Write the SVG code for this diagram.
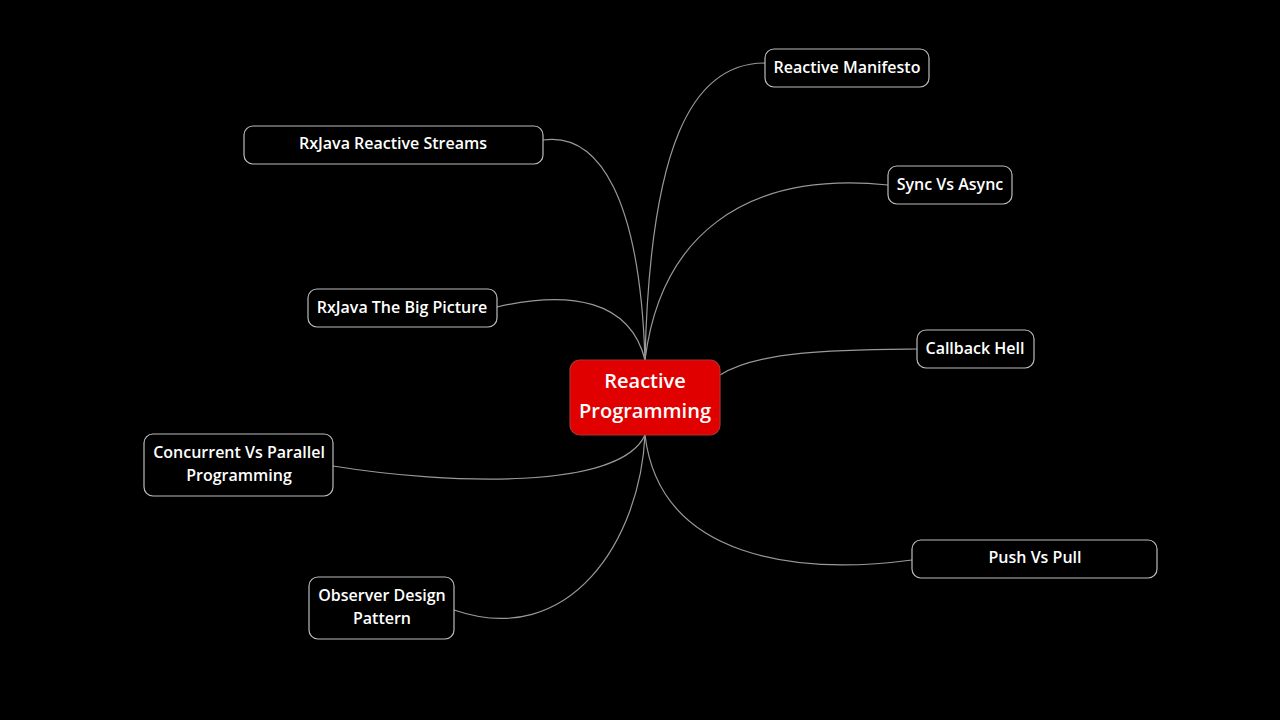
<svg xmlns="http://www.w3.org/2000/svg" width="1280" height="720" viewBox="0 0 1280 720">
<style>
.n rect{fill:#000;stroke:#bbb;stroke-width:1.2}
text{font-family:"Open Sans","Noto Sans",sans-serif;font-weight:600;fill:#fff;font-size:16px;text-anchor:middle}
text.big{font-size:20px}
.c path{fill:none;stroke:#999;stroke-width:1.2}
</style>
<rect width="1280" height="720" fill="#000"/>
<g class="c" id="connectors">
<path d="M645,360 C650,150 690,63 765,63"/>
<path d="M645,360 C660,240 740,170 888,185"/>
<path d="M645,360 C640,200 600,132 543,140"/>
<path d="M645,360 C630,300 570,290 497,307"/>
<path d="M720,375 C760,350 840,350 917,349"/>
<path d="M645,435 C620,490 450,485 333,466"/>
<path d="M645,435 C640,540 570,650 454,610"/>
<path d="M645,435 C660,560 800,575 912,560"/>
</g>
<g id="center"><rect x="570" y="360" width="150" height="75" rx="10" fill="#e00000" stroke="#a33" stroke-width="1.2"/>
<text class="big" x="645" y="388">Reactive</text><text class="big" x="645" y="418">Programming</text></g>
<g class="n" id="manifesto"><rect x="765" y="49" width="164" height="38" rx="9"/><text x="847" y="73">Reactive Manifesto</text></g>
<g class="n" id="sync"><rect x="888" y="166" width="124" height="38" rx="9"/><text x="950" y="190">Sync Vs Async</text></g>
<g class="n" id="streams"><rect x="244" y="126" width="299" height="38" rx="9"/><text x="393" y="149">RxJava Reactive Streams</text></g>
<g class="n" id="bigpic"><rect x="308" y="289" width="189" height="38" rx="9"/><text x="402" y="313">RxJava The Big Picture</text></g>
<g class="n" id="callback"><rect x="917" y="330" width="117" height="38" rx="9"/><text x="975" y="354">Callback Hell</text></g>
<g class="n" id="concurrent"><rect x="144" y="434" width="189" height="62" rx="9"/><text x="239" y="458">Concurrent Vs Parallel</text><text x="239" y="481">Programming</text></g>
<g class="n" id="observer"><rect x="309" y="577" width="145" height="62" rx="9"/><text x="382" y="601">Observer Design</text><text x="382" y="624">Pattern</text></g>
<g class="n" id="push"><rect x="912" y="540" width="245" height="38" rx="9"/><text x="1035" y="563">Push Vs Pull</text></g>
</svg>
